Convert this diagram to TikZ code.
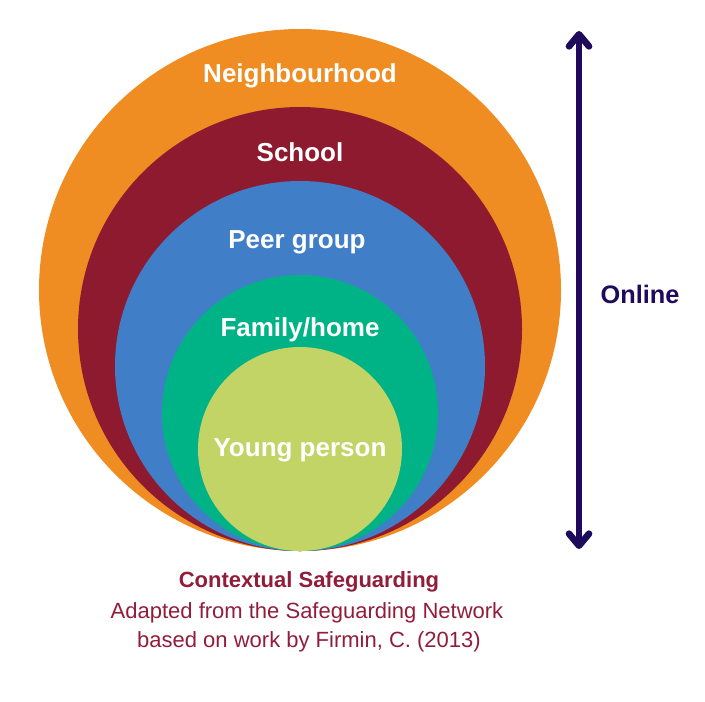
\documentclass[tikz,border=0pt]{standalone}
\usepackage{fontspec}
\setmainfont{Liberation Sans}
\usetikzlibrary{arrows.meta}

\definecolor{hoodorange}{HTML}{F08D22}
\definecolor{schoolred}{HTML}{8E1A30}
\definecolor{peerblue}{HTML}{407FC8}
\definecolor{homegreen}{HTML}{00B386}
\definecolor{youthlime}{HTML}{C2D466}
\definecolor{onlinenavy}{HTML}{1E0B5C}
\definecolor{captionred}{HTML}{911D3A}

\tikzset{
  ringlabel/.style={text=white, anchor=base, font=\bfseries\fontsize{19.5}{22}\selectfont, inner sep=0pt},
  caption/.style={text=captionred, anchor=base, font=\fontsize{16.5}{19}\selectfont, inner sep=0pt},
}

\begin{document}
\begin{tikzpicture}[x=0.75pt, y=-0.75pt]
          \useasboundingbox (0,0) rectangle (705,701);

          \fill[hoodorange] (300,290) circle [radius=261];
          \fill[schoolred] (300,329) circle [radius=222];
          \fill[peerblue] (300,366) circle [radius=185];
          \fill[homegreen] (300,413) circle [radius=138];
          \fill[youthlime] (300,449) circle [radius=102];

          \node[ringlabel] (hood) at (300,82) {Neighbourhood};
          \node[ringlabel] (school) at (300,161) {School};
          \node[ringlabel] (peer) at (297,248) {Peer group};
          \node[ringlabel] (home) at (300,336) {Family/home};
          \node[ringlabel] (young) at (300,456) {Young person};

          \coordinate (top) at (579,31);
          \coordinate (bottom) at (579,549);
          \draw[onlinenavy, line width=5pt, line cap=round,
                {Straight Barb[length=9pt, width=15pt, round]}-{Straight Barb[length=9pt, width=15pt, round]}]
                (top) -- (bottom);
          \node[anchor=base, inner sep=0pt, text=onlinenavy, font=\bfseries\fontsize{19}{22}\selectfont]
                (online) at (640,303) {Online};

          \node[caption, font=\bfseries\fontsize{16.5}{19}\selectfont] (title) at (309,587) {Contextual Safeguarding};
          \node[caption] (adapted) at (307,618) {Adapted from the Safeguarding Network};
          \node[caption] (firmin) at (309,647) {based on work by Firmin, C. (2013)};
\end{tikzpicture}
\end{document}
